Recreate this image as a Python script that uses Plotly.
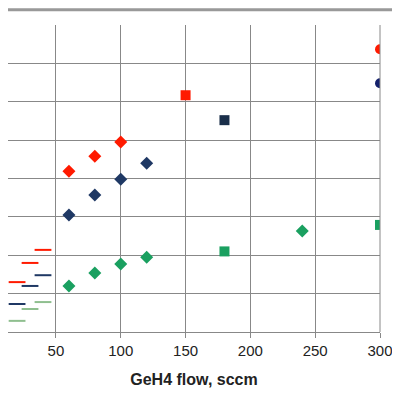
import plotly.graph_objects as go

dash_x = [20, 30, 40]
blue_dash = [0.73, 1.2, 1.48]
red_dash = [1.3, 1.8, 2.14]
green_dash = [0.29, 0.6, 0.78]
dia_x = [60, 80, 100, 120]
blue_dia = [3.05, 3.57, 3.98, 4.4]
red_dia_x = [60, 80, 100]
red_dia = [4.19, 4.58, 4.95]
green_dia_x = [60, 80, 100, 120, 240]
green_dia = [1.2, 1.54, 1.77, 1.95, 2.63]
blue_sq_x = [180]; blue_sq = [5.52]
blue_ci_x = [300]; blue_ci = [6.48]
red_sq_x = [150]; red_sq = [6.17]
red_ci_x = [300]; red_ci = [7.37]
green_sq_x = [180, 300]; green_sq = [2.1, 2.79]

BLUE = "#1f3864"; DBLUE = "#14206b"; RED = "#ff1a00"; GREEN = "#1aa060"; LGREEN = "#8fbf8f"
fig = go.Figure()
def add(x, y, sym, color, size=10):
    fig.add_trace(go.Scatter(x=x, y=y, mode="markers", name=" ",
        marker=dict(symbol=sym, color=color, size=size, line=dict(width=0))))
add(dash_x, blue_dash, "line-ew", BLUE, 12)
fig.data[-1].marker.line = dict(width=2, color=BLUE)
add(dia_x, blue_dia, "diamond", BLUE)
add(blue_sq_x, blue_sq, "square", "#1a2f4a")
add(blue_ci_x, blue_ci, "circle", DBLUE)
add(dash_x, red_dash, "line-ew", RED, 12)
fig.data[-1].marker.line = dict(width=2, color=RED)
add(red_dia_x, red_dia, "diamond", RED)
add(red_sq_x, red_sq, "square", RED)
add(red_ci_x, red_ci, "circle", RED)
add(dash_x, green_dash, "line-ew", LGREEN, 12)
fig.data[-1].marker.line = dict(width=2, color=LGREEN)
add(green_dia_x, green_dia, "diamond", GREEN)
add(green_sq_x, green_sq, "square", GREEN)

fig.update_layout(width=400, height=400, margin=dict(l=0, r=28, t=17, b=76, autoexpand=False),
    paper_bgcolor="white", plot_bgcolor="white", showlegend=True,
    legend=dict(xref="container", yref="container", x=0.955, y=0.86, yanchor="top",
                xanchor="left", font=dict(size=16.5),
                tracegroupgap=0, bgcolor="rgba(0,0,0,0)"),
    font=dict(family="Liberation Sans", color="#222"))
fig.update_xaxes(range=[13, 300], tickvals=[50, 100, 150, 200, 250, 300],
    showgrid=True, gridcolor="#888", gridwidth=1, zeroline=False,
    ticks="outside", tickcolor="#888", ticklen=5, tickfont=dict(size=15),
    title=dict(text="<b>GeH4 flow, sccm</b>", font=dict(size=16)),
    showline=True, linecolor="#888", mirror=False)
fig.update_yaxes(range=[0, 8], dtick=1, showgrid=True, gridcolor="#888",
    zeroline=False, showticklabels=False)
fig.add_shape(type="line", xref="paper", yref="paper", x0=1, x1=1, y0=0, y1=1,
    line=dict(color="#888", width=1))
fig.add_shape(type="line", xref="paper", yref="paper", x0=-0.1, x1=1.2, y0=1.05, y1=1.05,
    line=dict(color="#999", width=3))
fig.write_html("out.html")
